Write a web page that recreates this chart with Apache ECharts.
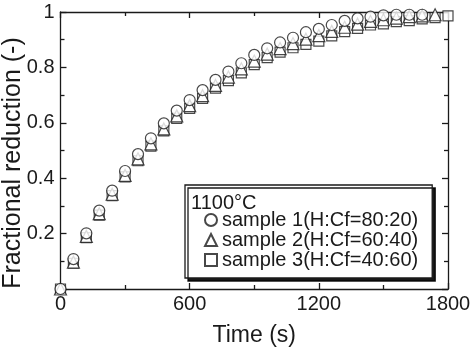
<!DOCTYPE html>
<html>
<head>
<meta charset="utf-8">
<script src="https://cdn.jsdelivr.net/npm/echarts@6/dist/echarts.min.js"></script>
<style>
html,body{margin:0;padding:0;background:#fff;}
#chart{width:474px;height:351px;}
</style>
</head>
<body>
<div id="chart"></div>
<script>
// time points (s)
var times = [0,60,120,180,240,300,360,420,480,540,600,660,720,780,840,900,960,1020,1080,1140,1200,1260,1320,1380,1440,1500,1560,1620,1680,1740,1800];
var seriesNames = ['sample 1(H:Cf=80:20)','sample 2(H:Cf=60:40)','sample 3(H:Cf=40:60)'];
var sample1 = [0,0.108,0.201,0.283,0.355,0.426,0.487,0.544,0.598,0.644,0.682,0.718,0.755,0.785,0.815,0.845,0.869,0.89,0.907,0.927,0.939,0.953,0.968,0.977,0.983,0.988,0.99,0.99,0.99];
var sample2 = [0,0.097,0.19,0.272,0.342,0.41,0.47,0.524,0.578,0.625,0.662,0.698,0.735,0.765,0.795,0.823,0.848,0.868,0.886,0.902,0.915,0.93,0.945,0.956,0.966,0.972,0.978,0.983,0.986,0.99];
var sample3 = [0,0.093,0.185,0.267,0.337,0.405,0.463,0.516,0.571,0.616,0.652,0.688,0.725,0.752,0.78,0.81,0.835,0.855,0.871,0.883,0.895,0.914,0.929,0.941,0.953,0.957,0.965,0.969,0.975,0.98,0.986];
var legendTitle = '1100°C';
var xTitle = 'Time (s)';
var yTitle = 'Fractional reduction (-)';
var xTicks = [0,600,1200,1800];
var yTicks = [0,0.2,0.4,0.6,0.8,1];

function pairs(vals){ return vals.map(function(v,i){ return [times[i], v]; }); }

var FONT = 'Liberation Sans, Arial, sans-serif';
var INK = '#1a1a1a';
var chart = echarts.init(document.getElementById('chart'), null, {renderer:'canvas'});

function axisCommon(){
  return {
    axisLine:{show:true, onZero:false, lineStyle:{color:INK, width:1.3}},
    axisTick:{show:true, inside:true, length:6, lineStyle:{color:INK, width:1.3}},
    minorTick:{show:true, splitNumber:2, length:4, lineStyle:{color:INK, width:1.3}},
    splitLine:{show:false}
  };
}

var option = {
  backgroundColor:'#fff',
  animation:false,
  textStyle:{fontFamily:FONT},
  title:{
    text:legendTitle, left:191, top:193,
    textStyle:{fontFamily:FONT, fontSize:20, fontWeight:'normal', color:INK},
    padding:0, z:10
  },
  graphic:[{
    type:'text', x:13, y:163, rotation:Math.PI/2, z:10,
    style:{text:yTitle, fontFamily:FONT, fontSize:25, fill:INK, align:'center', verticalAlign:'middle'}
  }],
  grid:{left:60.5, right:26, top:12, bottom:62, containLabel:false, outerBoundsMode:'none'},
  legend:{
    orient:'vertical', left:185, top:185,
    data:seriesNames,
    itemWidth:12, itemHeight:12, itemGap:0, itemTextGap:12,
    padding:[25,14,8,19],
    backgroundColor:'#fff', borderColor:INK, borderWidth:1.3, borderRadius:0,
    shadowColor:'rgba(0,0,0,0.9)', shadowBlur:0, shadowOffsetX:3, shadowOffsetY:3,
    textStyle:{fontFamily:FONT, fontSize:20, color:INK, lineHeight:19},
    selectedMode:false
  },
  xAxis:[
    Object.assign(axisCommon(), {
      type:'value', min:xTicks[0], max:xTicks[xTicks.length-1], interval:600, position:'bottom',
      name:xTitle, nameLocation:'middle', nameGap:35,
      nameTextStyle:{fontFamily:FONT, fontSize:23, color:INK},
      axisLabel:{fontFamily:FONT, fontSize:20, color:INK, margin:5,
        formatter:function(v){ return String(v); }}
    }),
    Object.assign(axisCommon(), {
      type:'value', min:xTicks[0], max:xTicks[xTicks.length-1], interval:600, position:'top',
      axisLabel:{show:false}
    })
  ],
  yAxis:[
    Object.assign(axisCommon(), {
      type:'value', min:yTicks[0], max:yTicks[yTicks.length-1], interval:0.2, position:'left',
      axisLabel:{fontFamily:FONT, fontSize:20, color:INK, margin:6,
        formatter:function(v){ if(v===0) return ''; if(v===1) return '1'; return v.toFixed(1); }}
    }),
    Object.assign(axisCommon(), {
      type:'value', min:yTicks[0], max:yTicks[yTicks.length-1], interval:0.2, position:'right',
      axisLabel:{show:false}
    })
  ],
  series:[
    {name:seriesNames[2], type:'scatter', data:pairs(sample3), symbol:'rect', symbolSize:10, z:2,
     itemStyle:{color:'#fff', borderColor:INK, borderWidth:1.2}},
    {name:seriesNames[1], type:'scatter', data:pairs(sample2), symbol:'triangle', symbolSize:12, z:3,
     itemStyle:{color:'#fff', borderColor:INK, borderWidth:1.2}},
    {name:seriesNames[0], type:'scatter', data:pairs(sample1), symbol:'circle', symbolSize:11, z:4,
     itemStyle:{color:'#fff', borderColor:INK, borderWidth:1.2}}
  ]
};
chart.setOption(option);
</script>
</body>
</html>
